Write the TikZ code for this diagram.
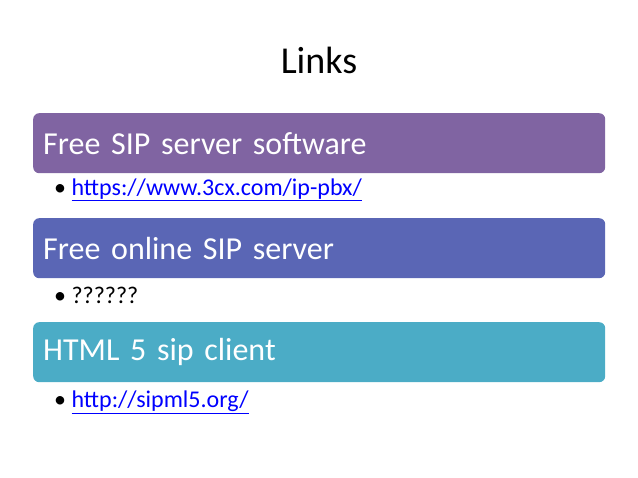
\documentclass[tikz,border=0pt]{standalone}
\usepackage{fontspec}
\setmainfont{Carlito}
\definecolor{barA}{HTML}{8064A2}
\definecolor{barB}{HTML}{5A66B5}
\definecolor{barC}{HTML}{4BACC6}
\definecolor{lnk}{HTML}{0000FF}
\begin{document}
\begin{tikzpicture}[x=1pt,y=-1pt,
  bar/.style={draw=none,rounded corners=6pt,minimum width=572pt,minimum height=60pt,anchor=north west,text=white,font=\fontsize{32}{34}\selectfont,align=left,text width=552pt,inner xsep=10pt},
  item/.style={anchor=west,font=\fontsize{24}{26}\selectfont,inner sep=0pt}]
\useasboundingbox (0,0) rectangle (638,478);
\node[font=\fontsize{38}{40}\selectfont] (title) at (319,60) {Links};
\node[bar,fill=barA] (b1) at (33,113) {Free SIP server software};
\node[item] (i1) at (54,190) {\textbullet\ \textcolor{lnk}{\underline{https://www.3cx.com/ip-pbx/}}};
\node[bar,fill=barB] (b2) at (33,218) {Free online SIP server};
\node[item] (i2) at (54,295) {\textbullet\ ??????};
\node[bar,fill=barC] (b3) at (33,322) {HTML 5 sip client};
\node[item] (i3) at (54,402) {\textbullet\ \textcolor{lnk}{\underline{http://sipml5.org/}}};
\end{tikzpicture}
\end{document}
